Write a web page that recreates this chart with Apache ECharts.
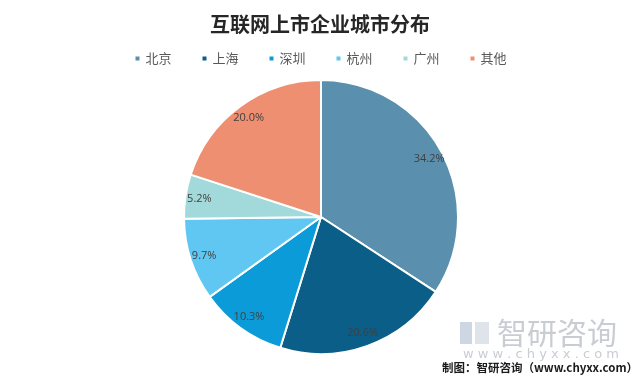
<!DOCTYPE html>
<html><head><meta charset="utf-8">
<script src="https://cdn.jsdelivr.net/npm/echarts@6/dist/echarts.min.js"></script>
<style>html,body{margin:0;padding:0;background:#fff}#c{width:640px;height:385px}</style>
</head><body><div id="c"></div>
<script>
const categories = ['北京','上海','深圳','杭州','广州','其他'];
const shares = [34.2, 20.6, 10.3, 9.7, 5.2, 20.0];
const colors = ['#5b8fae','#0a5e88','#0b9bd9','#5fc7f1','#a2d9da','#ee8f72'];
const titleText = '互联网上市企业城市分布';
const sourceText = '制图：智研咨询（www.chyxx.com）';

const data = categories.map((n,i)=>({name:n,value:shares[i],itemStyle:{color:colors[i]}}));
const chart = echarts.init(document.getElementById('c'));
chart.setOption({
  backgroundColor:'#fff',
  animation:false,
  title:{text:titleText,left:'center',top:9,textStyle:{fontFamily:'Noto Sans CJK SC',fontWeight:'bold',fontSize:20,color:'#262626'}},
  legend:{data:categories,top:47,left:'center',icon:'rect',itemWidth:6,itemHeight:6,itemGap:29,
    textStyle:{fontFamily:'Noto Sans CJK SC',fontSize:13,color:'#595959'}},
  graphic:[
    {type:'text',left:497,top:318,style:{text:'智研咨询',font:'30px "Noto Sans CJK SC"',fill:'#c9cdd3'}},
    {type:'text',left:463,top:348,style:{text:'w w w . c h y x x . c o m',font:'13px "DejaVu Sans"',fill:'#c9cdd3'}},
    {type:'rect',shape:{x:460,y:322,width:12,height:22},style:{fill:'#cdd6e3'}},
    {type:'rect',shape:{x:475,y:322,width:14,height:22},style:{fill:'#dfe4ea'}},
    {type:'text',right:2,top:362,style:{text:sourceText,font:'bold 11.5px "Noto Sans CJK SC"',fill:'#1a1a1a'}}
  ],
  series:[
    {type:'pie',center:[321,217],radius:[0,137],startAngle:90,clockwise:true,
     data:data,label:{show:false},labelLine:{show:false},
     itemStyle:{borderColor:'#fff',borderWidth:2},emphasis:{disabled:true}},
    {type:'pie',center:[321,217],radius:[103,137],startAngle:90,clockwise:true,silent:true,
     data:categories.map((n,i)=>({name:n,value:shares[i],itemStyle:{color:'rgba(0,0,0,0)'}})),
     label:{show:true,position:'inside',formatter:p=>p.value.toFixed(1)+'%',fontFamily:'Open Sans',fontSize:11,color:'#404040'},
     labelLine:{show:false},legendHoverLink:false,emphasis:{disabled:true}}
  ]
});
</script></body></html>
